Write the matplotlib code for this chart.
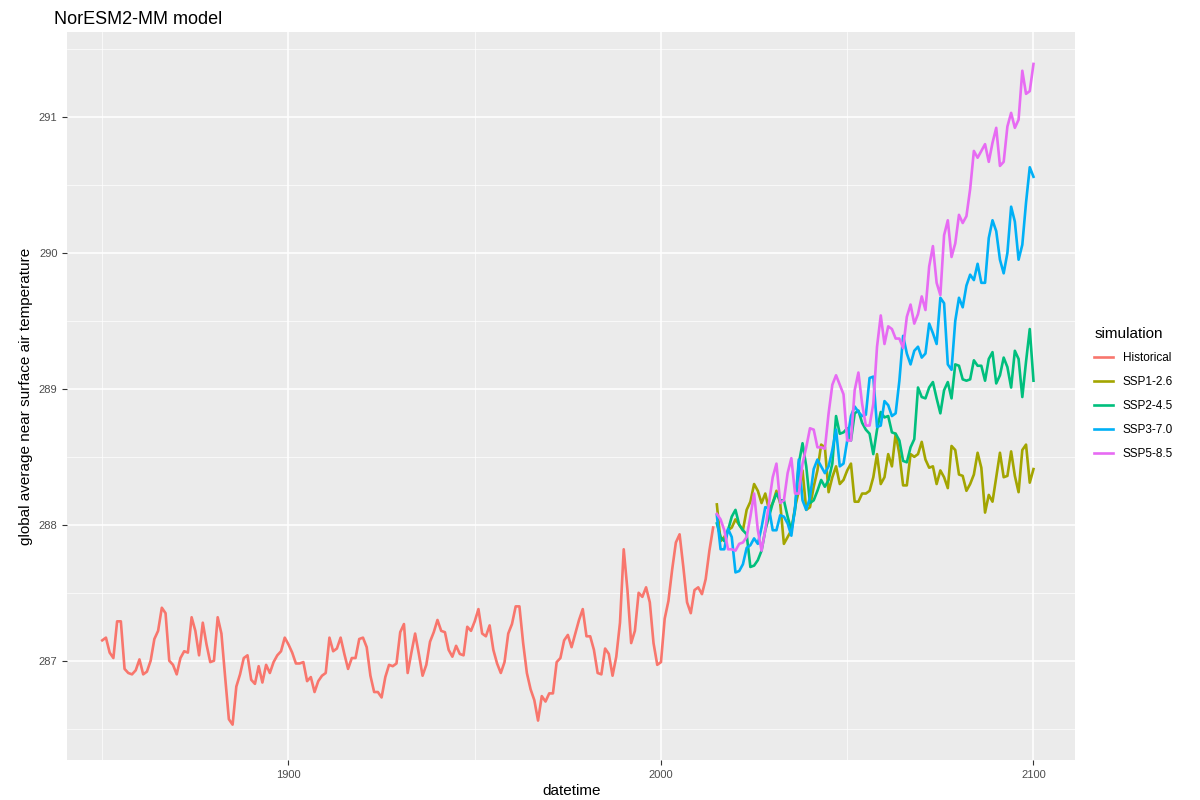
import numpy as np
import matplotlib
matplotlib.use("Agg")
import matplotlib.pyplot as plt
from matplotlib.ticker import MultipleLocator

plt.rcParams['font.family'] = ['Liberation Sans', 'DejaVu Sans']

hist_years = list(range(1850, 2015))
hist = [287.15,287.17,287.06,287.02,287.29,287.29,286.94,286.91,286.90,286.93,
287.01,286.90,286.92,287.00,287.16,287.22,287.39,287.35,287.00,286.97,
286.90,287.02,287.07,287.06,287.32,287.22,287.04,287.28,287.12,286.99,
287.00,287.32,287.20,286.88,286.57,286.53,286.81,286.90,287.02,287.04,
286.86,286.83,286.96,286.84,286.97,286.91,286.99,287.04,287.07,287.17,
287.12,287.06,286.98,286.98,286.99,286.85,286.88,286.77,286.85,286.89,
286.91,287.17,287.07,287.09,287.17,287.05,286.94,287.02,287.02,287.16,
287.17,287.10,286.89,286.77,286.77,286.73,286.88,286.97,286.96,286.98,
287.21,287.27,286.91,287.06,
287.20,287.05,286.89,286.97,287.14,287.21,287.30,287.22,287.21,287.08,
287.03,287.11,287.05,287.04,287.25,287.22,287.29,287.38,287.20,287.18,
287.26,287.08,286.98,286.91,286.99,287.20,287.27,287.40,287.40,287.13,
286.91,286.79,286.71,286.56,286.74,286.70,286.76,286.76,286.99,287.02,
287.15,287.19,287.10,287.20,287.30,287.38,287.18,287.18,287.08,286.91,
286.90,287.09,287.05,286.89,287.03,287.28,287.82,287.52,287.13,287.22,
287.50,287.47,287.54,287.43,287.13,286.97,286.99,287.31,287.44,287.67,
287.87,287.93,287.69,287.43,287.35,287.52,287.54,287.49,287.60,287.81,287.98]

ssp_years = list(range(2015, 2101))
ssp126 = [288.15,287.88,287.91,287.96,287.98,288.04,288.00,287.96,288.11,288.17,
288.30,288.25,288.16,288.23,288.11,288.16,288.25,288.16,287.86,287.91,
287.96,288.13,288.25,288.40,288.11,288.13,288.28,288.40,288.59,288.57,
288.24,288.35,288.43,288.30,288.33,288.40,288.45,288.17,288.17,288.23,
288.23,288.25,288.35,288.52,
288.30,288.35,288.52,288.43,288.67,288.52,288.29,288.29,288.52,288.50,
288.52,288.61,288.48,288.42,288.43,288.30,288.40,288.35,288.27,288.58,
288.55,288.37,288.36,288.25,288.30,288.37,288.53,288.42,288.09,288.22,
288.17,288.35,288.53,288.35,288.36,288.54,288.36,288.24,288.55,288.59,
288.31,288.41]
ssp245 = [288.01,287.91,287.88,287.96,288.06,288.11,288.00,287.96,287.93,287.69,
287.70,287.74,287.81,287.96,288.06,288.16,288.23,288.18,288.18,288.06,
287.96,288.11,288.45,288.60,288.43,288.16,288.18,288.25,288.33,288.28,
288.33,288.45,288.80,288.67,288.68,288.71,288.62,288.82,288.84,288.75,
288.70,288.67,288.52,288.70,
288.83,288.79,288.80,288.68,288.67,288.62,288.47,288.46,288.57,288.63,
289.01,288.94,288.93,289.01,289.05,288.93,288.82,288.99,289.05,288.93,
289.18,289.17,289.07,289.06,289.07,289.21,289.17,289.17,289.06,289.22,
289.27,289.04,289.10,289.23,289.16,289.01,289.28,289.22,288.94,289.20,
289.44,289.06]
ssp370 = [288.07,287.82,287.82,287.97,287.91,287.65,287.66,287.71,287.83,287.85,
287.90,287.86,287.98,288.13,288.12,287.96,287.96,288.07,288.06,288.01,
287.92,288.13,288.48,288.18,288.11,288.20,288.41,288.48,288.43,288.38,
288.43,288.55,288.70,288.43,288.45,288.62,288.80,288.87,288.83,288.80,
288.81,289.08,289.09,288.72,
288.73,288.91,288.88,288.80,288.82,289.06,289.39,289.26,289.18,289.28,
289.31,289.23,289.26,289.48,289.41,289.33,289.67,289.63,289.18,289.14,
289.50,289.67,289.60,289.76,289.84,289.80,289.92,289.78,289.78,290.11,
290.24,290.16,289.95,289.85,290.00,290.34,290.23,289.95,290.06,290.37,
290.63,290.56]
ssp585 = [288.08,288.04,287.96,287.82,287.82,287.81,287.86,287.87,287.91,288.06,
288.23,287.96,287.81,287.96,288.16,288.35,288.45,288.16,288.18,288.38,
288.49,288.23,288.23,288.45,288.57,288.71,288.70,288.57,288.57,288.56,
288.82,289.03,289.10,289.03,288.96,288.62,288.62,288.99,289.12,288.89,
288.73,288.73,288.89,289.31,
289.54,289.33,289.46,289.44,289.37,289.37,289.30,289.53,289.62,289.48,
289.55,289.68,289.58,289.90,290.05,289.78,289.69,290.13,290.24,289.97,
290.07,290.28,290.22,290.27,290.47,290.75,290.70,290.75,290.80,290.67,
290.81,290.92,290.64,290.67,290.93,291.03,290.92,290.98,291.34,291.17,
291.19,291.39]

names = ["Historical", "SSP1-2.6", "SSP2-4.5", "SSP3-7.0", "SSP5-8.5"]
colors = ["#F8766D", "#A3A500", "#00BF7D", "#00B0F6", "#E76BF3"]
series = [(hist_years, hist), (ssp_years, ssp126), (ssp_years, ssp245),
          (ssp_years, ssp370), (ssp_years, ssp585)]

fig = plt.figure(figsize=(12, 8), dpi=100)
ax = fig.add_axes([0.056, 0.05, 0.84, 0.91])
ax.set_facecolor("#EBEBEB")
for s in ax.spines.values():
    s.set_visible(False)
lines = []
for (x, y), n, c in zip(series, names, colors):
    l, = ax.plot(x, y, color=c, lw=1.9, label=n, zorder=3)
    lines.append(l)

ax.set_xlim(1840.6, 2111.2)
ax.set_ylim(286.27, 291.625)
ax.xaxis.set_major_locator(MultipleLocator(100))
ax.xaxis.set_minor_locator(MultipleLocator(50))
ax.yaxis.set_major_locator(MultipleLocator(1))
ax.yaxis.set_minor_locator(MultipleLocator(0.5))
ax.grid(which="major", color="white", lw=1.1, zorder=0)
ax.grid(which="minor", color="white", lw=0.5, zorder=0)
ax.set_axisbelow(True)
ax.tick_params(which="major", colors="#333333", labelcolor="#4D4D4D", labelsize=8, length=3.5)
ax.tick_params(which="minor", length=0)
ax.set_xlabel("datetime", fontsize=11, labelpad=3)
ax.set_ylabel("global average near surface air temperature", fontsize=11, labelpad=4)
ax.set_title("NorESM2-MM model", loc="left", fontsize=13, pad=6, x=-0.013)

leg = fig.legend(handles=lines, labels=names, loc="upper left",
                 bbox_to_anchor=(0.903, 0.605), frameon=False, fontsize=8.5,
                 title="simulation", title_fontsize=11, handlelength=1.6,
                 labelspacing=1.0, alignment="left")
fig.savefig("out.png", dpi=100)
